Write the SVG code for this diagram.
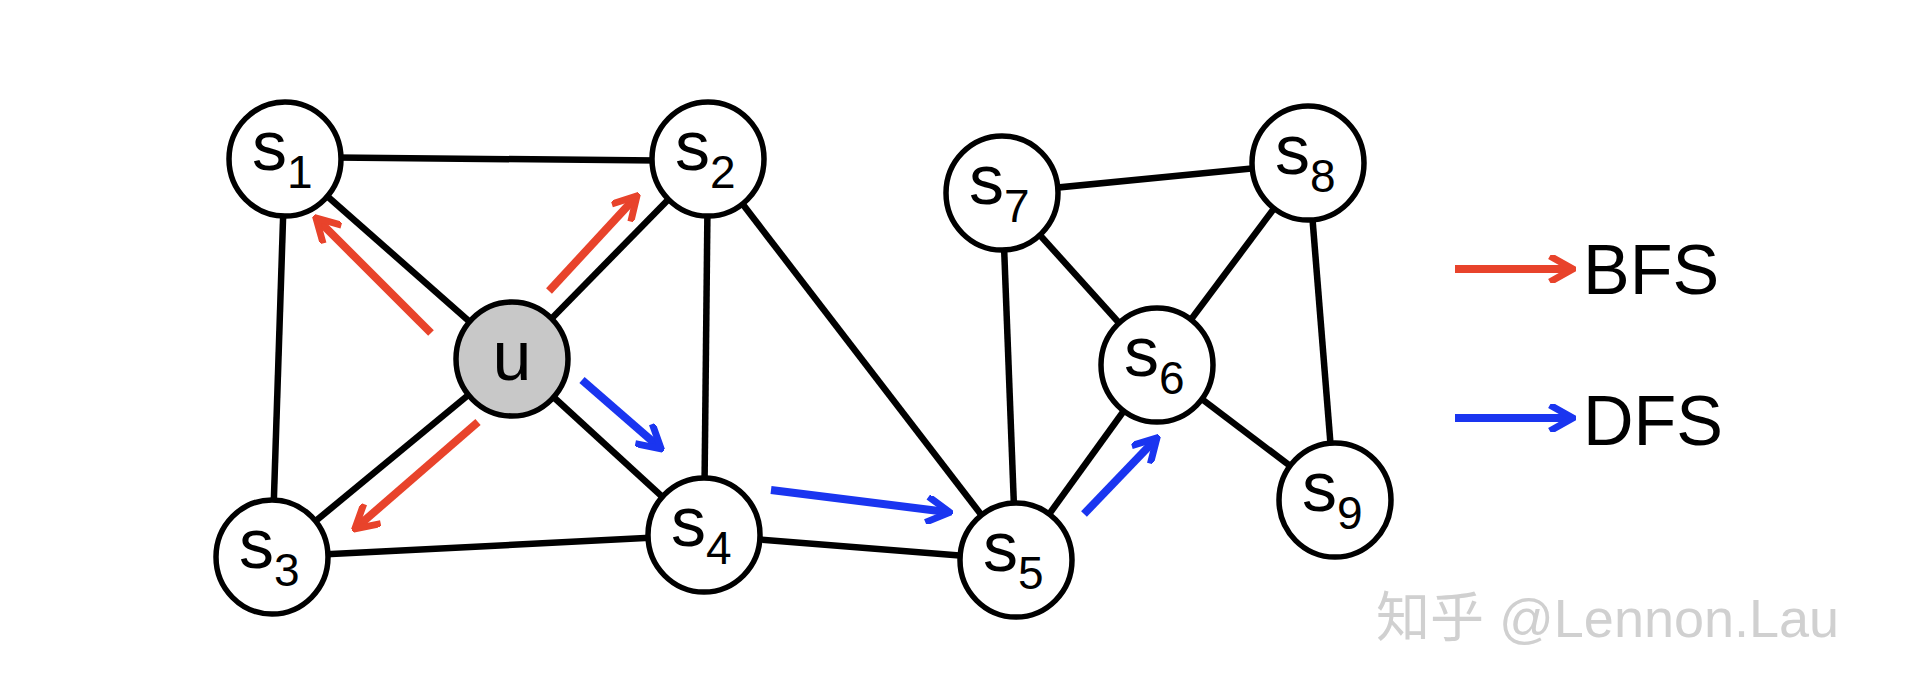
<svg xmlns="http://www.w3.org/2000/svg" width="1920" height="693" viewBox="0 0 1920 693">
<defs>
<marker id="ar" viewBox="0 0 10 10" refX="8" refY="5" markerWidth="3.6" markerHeight="3.6" orient="auto" markerUnits="strokeWidth"><path d="M1,0.5 L9,5 L1,9.5" fill="none" stroke="#e8432b" stroke-width="2.4"/></marker>
<marker id="ab" viewBox="0 0 10 10" refX="8" refY="5" markerWidth="3.6" markerHeight="3.6" orient="auto" markerUnits="strokeWidth"><path d="M1,0.5 L9,5 L1,9.5" fill="none" stroke="#1a35f0" stroke-width="2.4"/></marker>
<style>
.e{stroke:#000;stroke-width:6.5;fill:none}
.n{fill:#fff;stroke:#000;stroke-width:5.5}
.t{font-family:"Liberation Sans",Arial,sans-serif;font-size:70px;fill:#000}
.sb{font-size:46px}
.r{stroke:#e8432b;stroke-width:8;fill:none;marker-end:url(#ar)}
.b{stroke:#1a35f0;stroke-width:8;fill:none;marker-end:url(#ab)}
</style>
</defs>
<rect width="1920" height="693" fill="#fff"/>
<g id="connectors">
<line class="e" x1="285" y1="157" x2="708" y2="161"/>
<line class="e" x1="285" y1="159" x2="512" y2="359"/>
<line class="e" x1="285" y1="159" x2="272" y2="557"/>
<line class="e" x1="708" y1="159" x2="512" y2="359"/>
<line class="e" x1="708" y1="159" x2="704" y2="535"/>
<line class="e" x1="708" y1="159" x2="1016" y2="560"/>
<line class="e" x1="512" y1="359" x2="272" y2="557"/>
<line class="e" x1="512" y1="359" x2="704" y2="535"/>
<line class="e" x1="272" y1="557" x2="704" y2="535"/>
<line class="e" x1="704" y1="535" x2="1016" y2="560"/>
<line class="e" x1="1016" y1="560" x2="1002" y2="193"/>
<line class="e" x1="1016" y1="560" x2="1157" y2="365"/>
<line class="e" x1="1002" y1="193" x2="1308" y2="163"/>
<line class="e" x1="1002" y1="193" x2="1157" y2="365"/>
<line class="e" x1="1157" y1="365" x2="1308" y2="163"/>
<line class="e" x1="1157" y1="365" x2="1335" y2="500"/>
<line class="e" x1="1308" y1="163" x2="1335" y2="500"/>
<line class="r" x1="431" y1="333" x2="318" y2="220"/>
<line class="r" x1="549" y1="291" x2="635" y2="198"/>
<line class="r" x1="478" y1="422" x2="357" y2="527"/>
<line class="b" x1="582" y1="380" x2="659" y2="447"/>
<line class="b" x1="771" y1="490" x2="947" y2="512"/>
<line class="b" x1="1084" y1="514" x2="1155" y2="440"/>
</g>
<g id="s1"><ellipse class="n" cx="285" cy="159" rx="56" ry="57"/><text class="t" x="252" y="170">s<tspan class="sb" dy="18">1</tspan></text></g>
<g id="s2"><ellipse class="n" cx="708" cy="159" rx="56" ry="57"/><text class="t" x="675" y="170">s<tspan class="sb" dy="18">2</tspan></text></g>
<g id="u"><ellipse cx="512" cy="359" rx="56" ry="57" fill="#c8c8c8" stroke="#000" stroke-width="5.5"/><text class="t" x="512" y="380" text-anchor="middle">u</text></g>
<g id="s3"><ellipse class="n" cx="272" cy="557" rx="56" ry="57"/><text class="t" x="239" y="568">s<tspan class="sb" dy="18">3</tspan></text></g>
<g id="s4"><ellipse class="n" cx="704" cy="535" rx="56" ry="57"/><text class="t" x="671" y="546">s<tspan class="sb" dy="18">4</tspan></text></g>
<g id="s5"><ellipse class="n" cx="1016" cy="560" rx="56" ry="57"/><text class="t" x="983" y="571">s<tspan class="sb" dy="18">5</tspan></text></g>
<g id="s7"><ellipse class="n" cx="1002" cy="193" rx="56" ry="57"/><text class="t" x="969" y="204">s<tspan class="sb" dy="18">7</tspan></text></g>
<g id="s8"><ellipse class="n" cx="1308" cy="163" rx="56" ry="57"/><text class="t" x="1275" y="174">s<tspan class="sb" dy="18">8</tspan></text></g>
<g id="s6"><ellipse class="n" cx="1157" cy="365" rx="56" ry="57"/><text class="t" x="1124" y="376">s<tspan class="sb" dy="18">6</tspan></text></g>
<g id="s9"><ellipse class="n" cx="1335" cy="500" rx="56" ry="57"/><text class="t" x="1302" y="511">s<tspan class="sb" dy="18">9</tspan></text></g>
<g id="legend">
<line class="r" x1="1455" y1="269" x2="1570" y2="269"/>
<text class="t" x="1583" y="294" font-size="78">BFS</text>
<line class="b" x1="1455" y1="418" x2="1570" y2="418"/>
<text class="t" x="1583" y="445" font-size="78">DFS</text>
</g>
<text x="1376" y="637" font-family="'Liberation Sans','Noto Sans CJK SC',sans-serif" font-size="54" fill="#d0d0d0">知乎 @Lennon.Lau</text>
</svg>
